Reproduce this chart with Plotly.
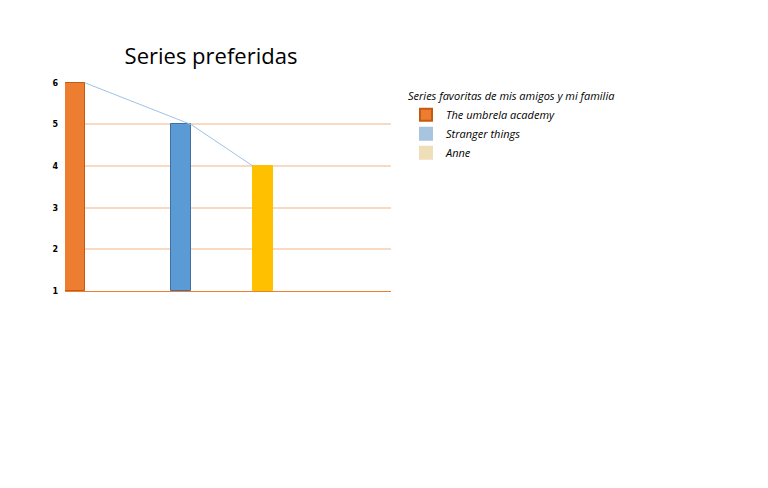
import plotly.graph_objects as go

series = ["The umbrela academy", "Stranger things", "Anne"]
values = [6, 5, 4]
bar_colors = ["#ed7d31", "#5b9bd5", "#ffc000"]
legend_colors = ["#ed7d31", "#a9c4de", "#efdfb8"]
y_ticks = [1, 2, 3, 4, 5, 6]

centers = [10, 116, 198]
W = 20
fig = go.Figure()
for i, (s, v) in enumerate(zip(series, values)):
    fig.add_trace(go.Bar(x=[centers[i]], y=[v - 1], base=1, width=W,
                         marker=dict(color=bar_colors[i], line=dict(color="#41719c" if i == 1 else ("#c55a11" if i == 0 else "#ffc000"), width=1)),
                         showlegend=False, hoverinfo="skip"))
lx = [centers[0] + W/2, centers[1] + W/2, centers[2] - W/2]
fig.add_trace(go.Scatter(x=lx, y=values, mode="lines", line=dict(color="#9dc3e6", width=1), showlegend=False, cliponaxis=False))
for s, c in zip(series, legend_colors):
    fig.add_trace(go.Scatter(x=[None], y=[None], mode="markers", name="<i>" + s + "</i>",
                             marker=dict(symbol="square", size=10, color=c, line=dict(color="#c55a11" if c == "#ed7d31" else c, width=1))))

fig.update_layout(
    width=768, height=488, margin=dict(l=0, r=0, t=0, b=0, autoexpand=False),
    paper_bgcolor="white", plot_bgcolor="white",
    title=dict(text="Series preferidas", x=203/768, xanchor="center", y=1-48/488, yanchor="middle",
               font=dict(family="Open Sans", size=22, color="black")),
    xaxis=dict(domain=[57/768, 383/768], range=[0, 326], showticklabels=False, showgrid=False, zeroline=False,
               showline=True, linecolor="#ed7d31", linewidth=1),
    yaxis=dict(domain=[1-283/488, 1-74/488], range=[1, 6.02], tickvals=y_ticks, showgrid=True, gridcolor="#f8d9c3",
               gridwidth=1.5, zeroline=False, tickfont=dict(family="DejaVu Sans", size=8, color="black", weight="bold"),
               ticks="", ticklabelstandoff=6),
    legend=dict(x=398/768, y=1-78/488, xanchor="left", yanchor="top", bgcolor="rgba(0,0,0,0)",
                title=dict(text="<i>Series favoritas de mis amigos y mi familia</i>", font=dict(family="Open Sans", size=11)),
                font=dict(family="Open Sans", size=11, color="black"), itemsizing="constant", tracegroupgap=10,
                itemwidth=30),
    bargap=0,
)
fig.write_html("out.html")
